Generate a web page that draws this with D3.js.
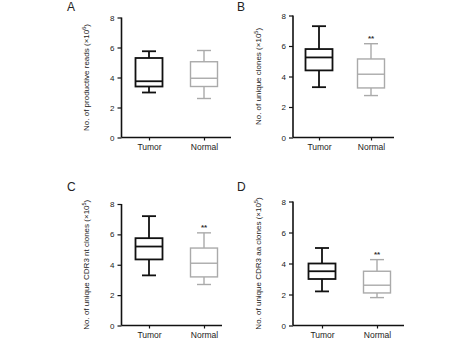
<!DOCTYPE html>
<html>
<head>
<meta charset="utf-8">
<script src="https://cdn.jsdelivr.net/npm/d3@7"></script>
<style>
  body { margin: 0; background: #fff; }
  text { font-family: "Liberation Sans", Arial, sans-serif; }
</style>
</head>
<body>
<script>
// groupes et valeurs (min, Q1, médiane, Q3, max)
const groups = ["Tumor", "Normal"]
const panelLetters = ["A", "B", "C", "D"]
const yLabels = [
  "No. of productive reads",
  "No. of unique clones",
  "No. of unique CDR3 nt clones",
  "No. of unique CDR3 aa clones"
]
const exponents = ["6", "5", "5", "5"]
const yTicks = [0, 2, 4, 6, 8]

const tumorA = [3.0, 3.4, 3.75, 5.3, 5.75]
const normalA = [2.6, 3.4, 3.95, 5.05, 5.8]
const tumorB = [3.3, 4.4, 5.25, 5.8, 7.3]
const normalB = [2.75, 3.25, 4.15, 5.15, 6.15]
const tumorC = [3.3, 4.35, 5.2, 5.75, 7.2]
const normalC = [2.7, 3.2, 4.1, 5.1, 6.1]
const tumorD = [2.2, 3.0, 3.5, 4.0, 5.0]
const normalD = [1.8, 2.1, 2.6, 3.5, 4.25]
const signif = ["", "**", "**", "**"]

const boxData = [
  [tumorA, normalA],
  [tumorB, normalB],
  [tumorC, normalC],
  [tumorD, normalD]
]

// placement de chaque panneau
const layout = [
  { ax: 121.5, top: 17.5, bottom: 137.5, right: 231, x0: 149, x1: 204, lx: 67, ly: 11, labX: 89 },
  { ax: 293, top: 15.5, bottom: 137.5, right: 394, x0: 319, x1: 371, lx: 237, ly: 11, labX: 261 },
  { ax: 121.5, top: 204, bottom: 325.5, right: 222, x0: 149, x1: 204, lx: 67, ly: 191, labX: 89 },
  { ax: 293, top: 201.5, bottom: 325.5, right: 404, x0: 322, x1: 377, lx: 237, ly: 191, labX: 261 }
]

const colors = ["#111", "#aaa"]
const widths = [1.8, 1.4]

const svg = d3.select("body")
  .append("svg")
  .attr("width", 474)
  .attr("height", 344)

layout.forEach((p, k) => {
  const g = svg.append("g")

  const y = d3.scaleLinear().domain([0, 8]).range([p.bottom, p.top])
  const x = d3.scaleOrdinal().domain(groups).range([p.x0, p.x1])

  // axe y
  const yAxis = g.append("g")
    .attr("transform", `translate(${p.ax},0)`)
    .call(d3.axisLeft(y).tickValues(yTicks).tickSize(4).tickPadding(3))
  yAxis.select(".domain").attr("d", `M0,${p.top}V${p.bottom}`)

  // axe x
  const xAxis = g.append("g")
    .attr("transform", `translate(0,${p.bottom})`)
    .call(d3.axisBottom(x).tickSize(3).tickPadding(3))
  xAxis.select(".domain").attr("d", `M${p.ax},0H${p.right}`)

  g.selectAll(".domain").attr("stroke", "#111").attr("stroke-width", 1.6)
  g.selectAll(".tick line").attr("stroke", "#111").attr("stroke-width", 1.2)
  g.selectAll(".tick text").attr("font-size", 8.5).attr("fill", "#222")
  yAxis.selectAll(".tick text").attr("font-size", 8)

  // lettre du panneau
  g.append("text")
    .attr("x", p.lx)
    .attr("y", p.ly)
    .attr("font-size", 12)
    .attr("fill", "#222")
    .text(panelLetters[k])

  // titre de l'axe y
  const lab = g.append("text")
    .attr("transform", `translate(${p.labX},${(p.top + p.bottom) / 2}) rotate(-90)`)
    .attr("text-anchor", "middle")
    .attr("font-size", 8)
    .attr("fill", "#222")
  lab.append("tspan").text(yLabels[k] + "  (×10")
  lab.append("tspan").attr("dy", -3).attr("font-size", 5.5).text(exponents[k])
  lab.append("tspan").attr("dy", 3).text(")")

  // boîtes
  const bw = 27, cw = 14
  boxData[k].forEach((s, i) => {
    const cx = x(groups[i])
    const bg = g.append("g")
      .attr("stroke", colors[i])
      .attr("stroke-width", widths[i])
      .attr("fill", "none")
    bg.append("line").attr("x1", cx).attr("x2", cx).attr("y1", y(s[0])).attr("y2", y(s[1]))
    bg.append("line").attr("x1", cx).attr("x2", cx).attr("y1", y(s[3])).attr("y2", y(s[4]))
    bg.append("line").attr("x1", cx - cw / 2).attr("x2", cx + cw / 2).attr("y1", y(s[0])).attr("y2", y(s[0]))
    bg.append("line").attr("x1", cx - cw / 2).attr("x2", cx + cw / 2).attr("y1", y(s[4])).attr("y2", y(s[4]))
    bg.append("rect")
      .attr("x", cx - bw / 2)
      .attr("y", y(s[3]))
      .attr("width", bw)
      .attr("height", y(s[1]) - y(s[3]))
    bg.append("line").attr("x1", cx - bw / 2).attr("x2", cx + bw / 2).attr("y1", y(s[2])).attr("y2", y(s[2]))

    if (i == 1 && signif[k]) {
      g.append("text")
        .attr("x", cx)
        .attr("y", y(s[4]) - 3)
        .attr("text-anchor", "middle")
        .attr("font-size", 8)
        .attr("font-weight", "bold")
        .attr("fill", "#333")
        .text(signif[k])
    }
  })
})
</script>
</body>
</html>
